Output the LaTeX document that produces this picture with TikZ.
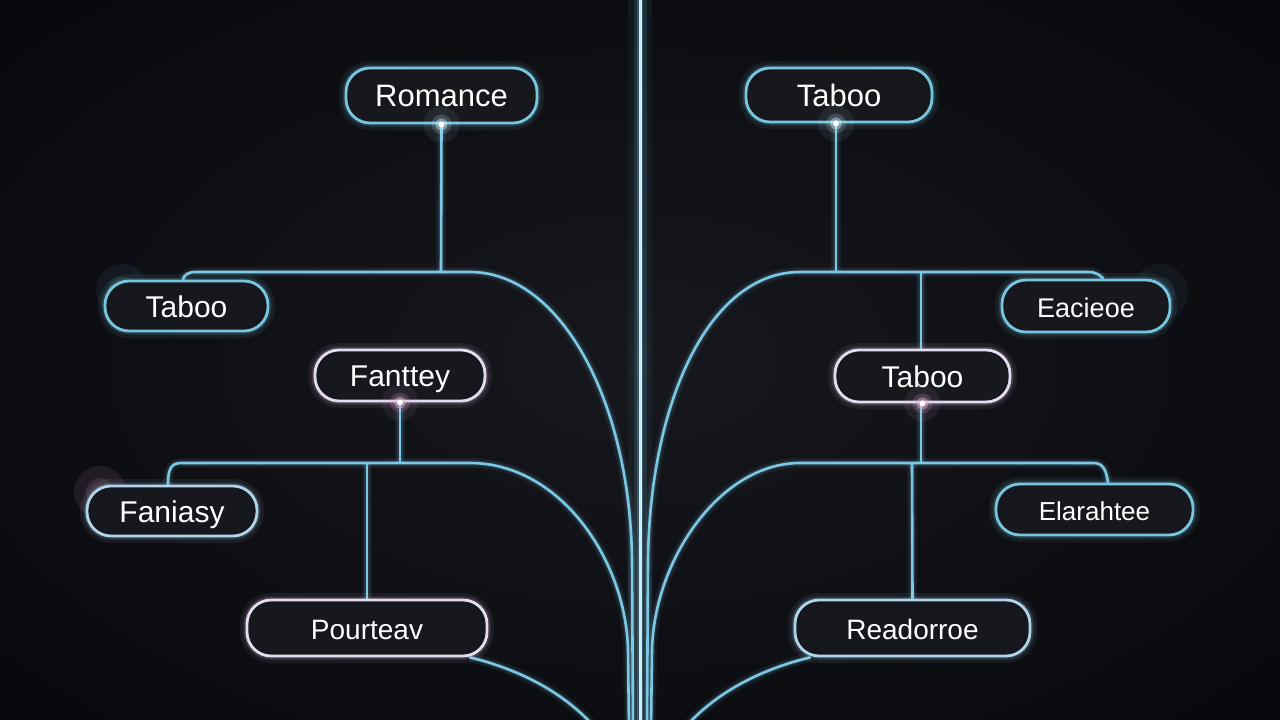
\documentclass[tikz,border=0pt]{standalone}
\usepackage{fontspec}
\setmainfont{Liberation Sans}
\pgfdeclarelayer{bglayer}
\pgfdeclarelayer{wirelayer}
\pgfdeclarelayer{forelayer}
\pgfsetlayers{bglayer,wirelayer,main,forelayer}
\definecolor{bgmid}{RGB}{22,24,30}
\definecolor{bgedge}{RGB}{5,5,8}
\definecolor{wire}{RGB}{125,200,228}
\definecolor{corecol}{RGB}{200,238,250}
\definecolor{bluerim}{RGB}{118,198,224}
\definecolor{mixrim}{RGB}{175,212,236}
\definecolor{pinkrim}{RGB}{228,220,240}
\definecolor{boxfill}{RGB}{22,24,30}
\definecolor{glowpink}{RGB}{235,175,225}
\tikzset{
  wirestyle/.style={draw=wire, line width=2.6pt, line cap=round,
    preaction={draw=wire, line width=10pt, opacity=0.07},
    preaction={draw=wire, line width=5.5pt, opacity=0.14}},
  corestyle/.style={draw=corecol, line width=3pt,
    preaction={draw=wire, line width=24pt, opacity=0.06},
    preaction={draw=wire, line width=13pt, opacity=0.12},
    preaction={draw=wire, line width=6pt, opacity=0.25}},
  pill/.style={rectangle, rounded corners=24pt, line width=2.8pt, fill=boxfill,
    text=white, inner sep=0pt, text height=22pt, text depth=0pt,
    font=\fontsize{30}{32}\selectfont},
  bpill/.style={pill, draw=bluerim,
    preaction={draw=bluerim, line width=14pt, opacity=0.08},
    preaction={draw=bluerim, line width=7pt, opacity=0.16}},
  mpill/.style={pill, draw=mixrim,
    preaction={draw=mixrim, line width=14pt, opacity=0.08},
    preaction={draw=mixrim, line width=7pt, opacity=0.16}},
  ppill/.style={pill, draw=pinkrim,
    preaction={draw=glowpink, line width=14pt, opacity=0.08},
    preaction={draw=pinkrim, line width=7pt, opacity=0.16}},
}
\newcommand{\glowdot}[2]{%
  \fill[#2, opacity=0.08] (#1) circle (18);
  \fill[#2, opacity=0.18] (#1) circle (10);
  \fill[#2, opacity=0.45] (#1) circle (6);
  \fill[white] (#1) circle (3);
}
\begin{document}
\begin{tikzpicture}[x=1pt,y=-1pt]
\useasboundingbox (0,0) rectangle (1280,720);
\clip (0,0) rectangle (1280,720);
\begin{pgfonlayer}{bglayer}
  \fill[bgedge] (0,0) rectangle (1280,720);
  \shade[inner color=bgmid, outer color=bgedge] (-420,-260) rectangle (1700,980);
  % soft halos
  \fill[bluerim, opacity=0.07] (122,290) circle (26);
  \fill[bluerim, opacity=0.09] (122,290) circle (14);
  \fill[glowpink, opacity=0.09] (100,492) circle (26);
  \fill[glowpink, opacity=0.12] (100,492) circle (14);
  \fill[bluerim, opacity=0.06] (1160,292) circle (28);
  \fill[bluerim, opacity=0.07] (1160,292) circle (15);
\end{pgfonlayer}

% nodes
\node[bpill, minimum width=191pt, minimum height=55pt, font=\fontsize{31}{33}\selectfont] (rom) at (441.5,95.5) {Romance};
\node[bpill, minimum width=186pt, minimum height=54pt, font=\fontsize{31}{33}\selectfont] (tabT) at (839,95) {Taboo};
\node[bpill, minimum width=163pt, minimum height=50pt] (tabL) at (186.5,306) {Taboo};
\node[ppill, minimum width=170pt, minimum height=51pt] (fanM) at (400,375.5) {Fanttey};
\node[bpill, minimum width=168pt, minimum height=52pt, font=\fontsize{27}{30}\selectfont] (eac) at (1086,306) {Eacieoe};
\node[ppill, minimum width=175pt, minimum height=52pt] (tabM) at (922.5,376) {Taboo};
\node[mpill, minimum width=170pt, minimum height=50pt] (fanL) at (172,511) {Faniasy};
\node[bpill, minimum width=197pt, minimum height=51pt, font=\fontsize{26}{29}\selectfont] (ela) at (1094.5,509.5) {Elarahtee};
\node[ppill, minimum width=240pt, minimum height=56pt, font=\fontsize{28}{30}\selectfont] (pou) at (367,628) {Pourteav};
\node[mpill, minimum width=235pt, minimum height=56pt, font=\fontsize{28}{30}\selectfont] (rea) at (912.5,628) {Readorroe};

% junction coordinates
\coordinate (ctop) at (640,-10);
\coordinate (cbot) at (640,730);
\coordinate (jA) at (441,272);
\coordinate (jB) at (400,463);
\coordinate (jB2) at (367,463);
\coordinate (jD) at (836,272);
\coordinate (jD2) at (921,272);
\coordinate (jE) at (921,463);
\coordinate (jE2) at (912,463);

\begin{pgfonlayer}{wirelayer}
  \draw[corestyle] (ctop) -- (cbot);
  % left side
  \draw[wirestyle] (rom.south) -- (jA);
  \draw[wirestyle] ([xshift=-3.5pt]tabL.north) .. controls (184,275) and (188,272) .. (196,272)
     -- (jA) -- (470,272) .. controls (560,272) and (630,400) .. (632,560) -- (633,730);
  \draw[wirestyle] (fanM.south) -- (jB);
  \draw[wirestyle] ([xshift=-4pt]fanL.north) .. controls (168,467) and (172,463) .. (182,463)
     -- (jB) -- (470,463) .. controls (560,463) and (626,560) .. (628,650) -- (629,730);
  \draw[wirestyle] (jB2) -- (pou.north);
  \draw[wirestyle] ([xshift=103pt]pou.south) .. controls (530,672) and (572,700) .. (597,730);
  % right side
  \draw[wirestyle] ([xshift=-3pt]tabT.south) -- (jD);
  \draw[wirestyle] ([xshift=17pt]eac.north) .. controls (1101,276) and (1097,272) .. (1088,272)
     -- (jD) -- (800,272) .. controls (710,272) and (650,400) .. (648,560) -- (647,730);
  \draw[wirestyle] (jD2) -- ([xshift=-1.5pt]tabM.north);
  \draw[wirestyle] ([xshift=-1.5pt]tabM.south) -- (jE);
  \draw[wirestyle] ([xshift=13.5pt]ela.north) .. controls (1106,468) and (1102,463) .. (1093,463)
     -- (jE) -- (800,463) .. controls (720,463) and (654,560) .. (652,650) -- (651,730);
  \draw[wirestyle] (jE2) -- (rea.north);
  \draw[wirestyle] ([xshift=-102.5pt]rea.south) .. controls (750,672) and (708,700) .. (683,730);
\end{pgfonlayer}

\begin{pgfonlayer}{forelayer}
  \glowdot{rom.south}{corecol}
  \glowdot{[xshift=-3pt]tabT.south}{corecol}
  \glowdot{fanM.south}{glowpink}
  \glowdot{tabM.south}{glowpink}
\end{pgfonlayer}
\end{tikzpicture}
\end{document}
